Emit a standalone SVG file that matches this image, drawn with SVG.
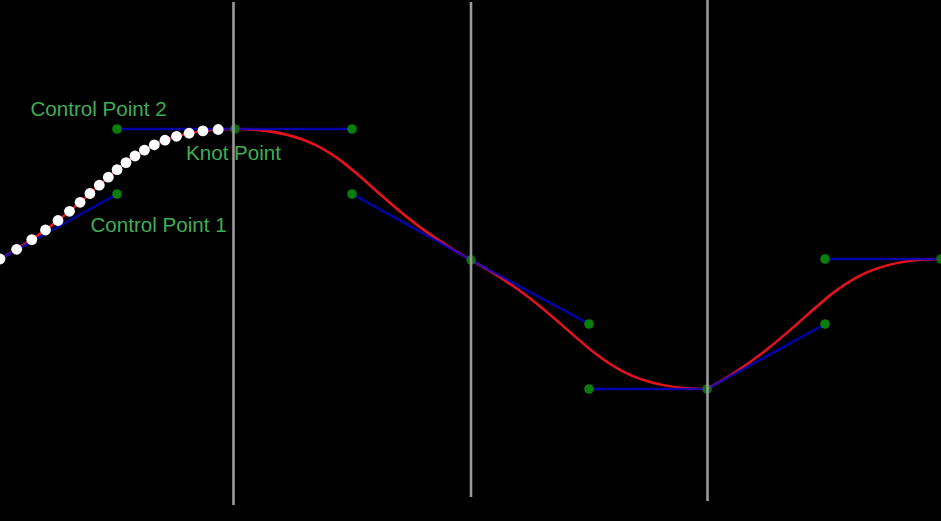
<svg xmlns="http://www.w3.org/2000/svg" width="941" height="521" viewBox="0 0 941 521">
<style>
.curve{fill:none;stroke:#e3121c;stroke-width:2.6}
.handle{fill:none;stroke:#0000d0;stroke-width:2.5;stroke-opacity:0.82}
.cp{fill:#0a7d0a}
.knot{fill:#0a7d0a;fill-opacity:0.85}
.sample{fill:#ffffff}
.grid{stroke:#9a9a9a;stroke-width:2.6}
.label{font-family:"Liberation Sans",Arial,sans-serif;font-size:20.6px;fill:#3fae55}
</style>
<rect width="941" height="521" fill="#000"/>
<g id="connectors">
<path class="curve" d="M0,259 C117,194 117,129 235,129 C352,129 352,194 471,260 C589,324 589,389 707,389 C825,324 825,259 941,259"/>
<polyline class="handle" points="0,259 117,194"/>
<polyline class="handle" points="117,129 235,129 352,129"/>
<polyline class="handle" points="352,194 471,260 589,324"/>
<polyline class="handle" points="589,389 707,389 825,324"/>
<polyline class="handle" points="825,259 941,259"/>
</g>
<g id="control-points">
<circle class="cp" cx="117" cy="194" r="4.8"/>
<circle class="cp" cx="117" cy="129" r="4.8"/>
<circle class="cp" cx="352" cy="129" r="4.8"/>
<circle class="cp" cx="352" cy="194" r="4.8"/>
<circle class="cp" cx="589" cy="324" r="4.8"/>
<circle class="cp" cx="589" cy="389" r="4.8"/>
<circle class="cp" cx="825" cy="324" r="4.8"/>
<circle class="cp" cx="825" cy="259" r="4.8"/>
</g>
<g id="knot-points">
<circle class="knot" cx="235" cy="129" r="4.8"/>
<circle class="knot" cx="471" cy="260" r="4.8"/>
<circle class="knot" cx="707" cy="389" r="4.8"/>
<circle class="knot" cx="941" cy="259" r="4.8"/>
</g>
<g id="samples">
<circle class="sample" cx="0" cy="259" r="5.4"/>
<circle class="sample" cx="16.7" cy="249.3" r="5.4"/>
<circle class="sample" cx="31.8" cy="239.6" r="5.4"/>
<circle class="sample" cx="45.5" cy="230.0" r="5.4"/>
<circle class="sample" cx="58.0" cy="220.5" r="5.4"/>
<circle class="sample" cx="69.5" cy="211.3" r="5.4"/>
<circle class="sample" cx="80.1" cy="202.3" r="5.4"/>
<circle class="sample" cx="89.9" cy="193.5" r="5.4"/>
<circle class="sample" cx="99.3" cy="185.2" r="5.4"/>
<circle class="sample" cx="108.3" cy="177.2" r="5.4"/>
<circle class="sample" cx="117.1" cy="169.6" r="5.4"/>
<circle class="sample" cx="126.0" cy="162.6" r="5.4"/>
<circle class="sample" cx="135.0" cy="156.0" r="5.4"/>
<circle class="sample" cx="144.4" cy="150.1" r="5.4"/>
<circle class="sample" cx="154.3" cy="144.8" r="5.4"/>
<circle class="sample" cx="165.0" cy="140.2" r="5.4"/>
<circle class="sample" cx="176.5" cy="136.3" r="5.4"/>
<circle class="sample" cx="189.1" cy="133.2" r="5.4"/>
<circle class="sample" cx="202.9" cy="130.9" r="5.4"/>
<circle class="sample" cx="218.2" cy="129.5" r="5.4"/>
</g>
<g id="dividers">
<line class="grid" x1="233.5" y1="2" x2="233.5" y2="505"/>
<line class="grid" x1="471" y1="2" x2="471" y2="497"/>
<line class="grid" x1="707.5" y1="0" x2="707.5" y2="501"/>
</g>
<g id="labels">
<text class="label" x="30.5" y="116">Control Point 2</text>
<text class="label" x="186" y="160">Knot Point</text>
<text class="label" x="90.5" y="231.5">Control Point 1</text>
</g>
</svg>
